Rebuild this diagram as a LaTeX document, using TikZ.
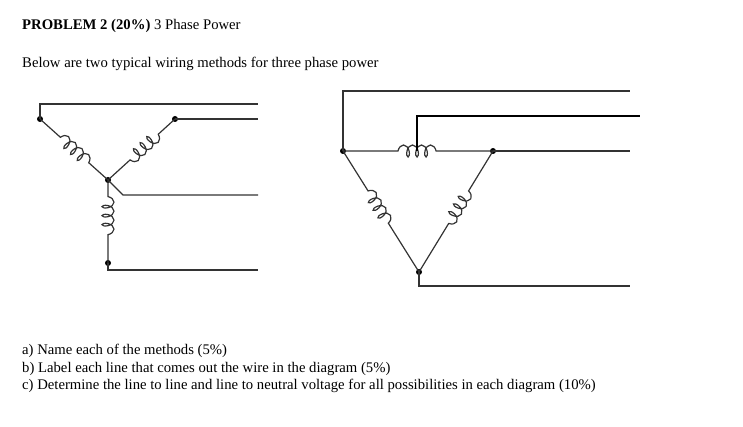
\documentclass[tikz,border=0pt]{standalone}
\usepackage{fontspec}
\setmainfont{Liberation Serif}
\usetikzlibrary{calc,decorations.pathmorphing}
\begin{document}
\begin{tikzpicture}[x=1pt,y=-1pt,
  wire/.style={line width=1.2pt,black!80},
  thick wire/.style={line width=2.8pt,black},
  coilseg/.style={decoration={coil,amplitude=6pt,segment length=9pt,aspect=0.55}},
  dot/.style={circle,fill=black,inner sep=0pt,minimum size=6pt},
  txt/.style={anchor=base west,inner sep=0pt,font=\fontsize{14.7}{17}\selectfont}]
\useasboundingbox (0,0) rectangle (743,427);
\node[txt] (title) at (22,30) {\textbf{PROBLEM 2 (20\%)} 3 Phase Power};
\node[txt] (intro) at (22,68) {Below are two typical wiring methods for three phase power};
\node[txt] (qa) at (22,354) {a) Name each of the methods (5\%)};
\node[txt] (qb) at (22,372) {b) Label each line that comes out the wire in the diagram (5\%)};
\node[txt] (qc) at (22,389) {c) Determine the line to line and line to neutral voltage for all possibilities in each diagram (10\%)};
% Wye
\node[dot] (wa) at (40,119) {};
\node[dot] (wb) at (175,119) {};
\node[dot] (wn) at (108,180) {};
\node[dot] (wc) at (108,263) {};
\coordinate (wt1) at (40,104); \coordinate (wt2) at (258,104);
\coordinate (wb2) at (258,119);
\coordinate (wm1) at (123,195); \coordinate (wm2) at (258,195);
\coordinate (wc1) at (108,270); \coordinate (wc2) at (258,270);
\draw[wire] (wa.center) -- (wt1) -- (wt2);
\draw[wire] (wb.center) -- (wb2);
\draw[wire] (wn.center) -- (wm1) -- (wm2);
\draw[wire] (wc.center) -- (wc1) -- (wc2);
\draw[wire,coilseg] (wa.center) -- ($(wa)!0.3!(wn)$) decorate{-- ($(wa)!0.75!(wn)$)} -- (wn.center);
\draw[wire,coilseg] (wb.center) -- ($(wb)!0.25!(wn)$) decorate{-- ($(wb)!0.7!(wn)$)} -- (wn.center);
\draw[wire,coilseg] (wn.center) -- ($(wn)!0.2!(wc)$) decorate{-- ($(wn)!0.75!(wc)$)} -- (wc.center);
% Delta
\node[dot] (dl) at (343,151) {};
\node[dot] (dr) at (493,151) {};
\node[dot] (db) at (419,272) {};
\coordinate (dt1) at (343,91); \coordinate (dt2) at (630,91);
\coordinate (dk0) at (417,151); \coordinate (dk1) at (417,116); \coordinate (dk2) at (640,116);
\coordinate (dr2) at (630,151);
\coordinate (db1) at (419,286); \coordinate (db2) at (630,286);
\coordinate (dc1) at (398,151); \coordinate (dc2) at (438,151);
\draw[wire] (dl.center) -- (dt1) -- (dt2);
\draw[wire] (dr.center) -- (dr2);
\draw[wire] (db.center) -- (db1) -- (db2);
\draw[wire,coilseg] (dl.center) -- (dc1) decorate{-- (dc2)} -- (dr.center);
\draw[thick wire] (dk0) -- (dk1) -- (dk2);
\draw[wire,coilseg] (dl.center) -- ($(dl)!0.33!(db)$) decorate{-- ($(dl)!0.65!(db)$)} -- (db.center);
\draw[wire,coilseg] (dr.center) -- ($(dr)!0.33!(db)$) decorate{-- ($(dr)!0.65!(db)$)} -- (db.center);
\end{tikzpicture}
\end{document}
